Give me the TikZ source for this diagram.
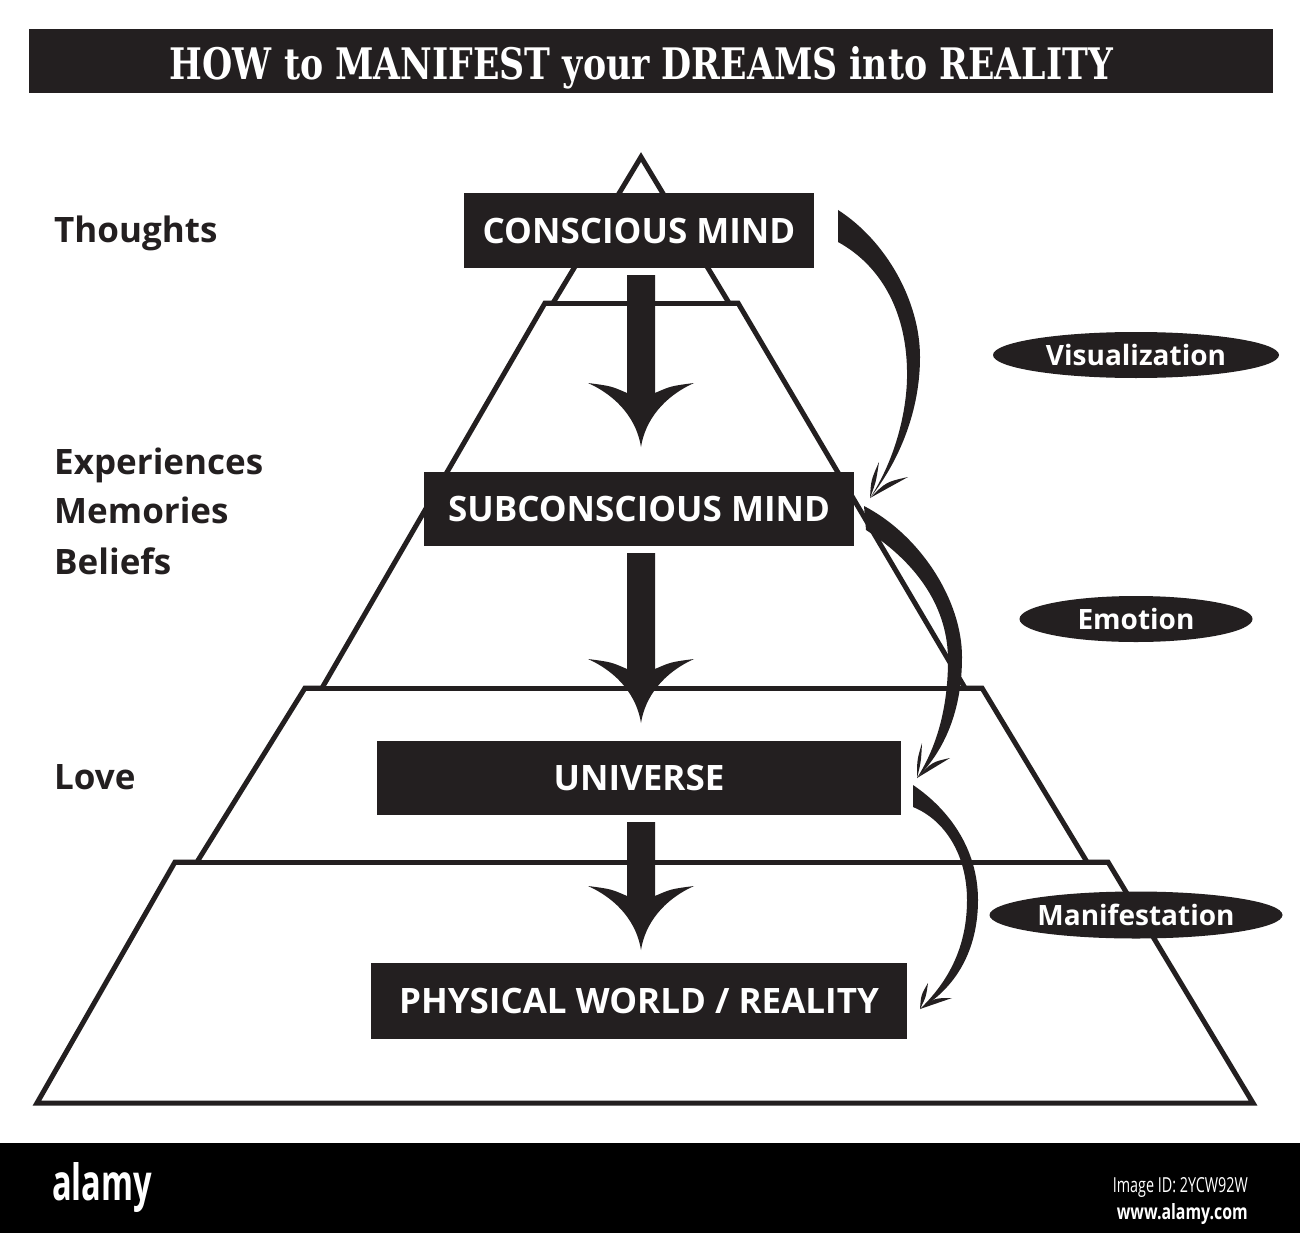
\documentclass[tikz,border=0pt]{standalone}
\usepackage{fontspec}
\usepackage{graphicx}
\setsansfont{Open Sans}
\newfontfamily\titlefont{DejaVu Serif}
\usetikzlibrary{shapes.geometric}
\definecolor{dark}{HTML}{231F20}
\newcommand\dnarrow[3]{%
  \fill[dark] ({#1-14},#2) -- ({#1-14},{#3+10}) .. controls ({#1-30},{#3+3}) .. ({#1-53},#3)
    .. controls ({#1-22},{#3+14}) and ({#1-4},{#3+38}) .. (#1,{#3+64})
    .. controls ({#1+4},{#3+38}) and ({#1+22},{#3+14}) .. ({#1+53},#3)
    .. controls ({#1+30},{#3+3}) .. ({#1+14},{#3+10}) -- ({#1+14},#2) -- cycle;}
\begin{document}
\begin{tikzpicture}[x=1pt,y=-1pt,
  pyr/.style={draw=dark, line width=5, line join=miter},
  box/.style={fill=dark, text=white, inner sep=0, font=\sffamily\bfseries\fontsize{35}{40}\selectfont},
  ell/.style={ellipse, fill=dark, text=white, inner sep=0, font=\sffamily\bfseries\fontsize{28}{30}\selectfont},
  lbl/.style={anchor=base west, inner sep=0, text=dark, font=\sffamily\bfseries\fontsize{35}{40}\selectfont},
  crescent/.style={fill=dark}]
\useasboundingbox (0,0) rectangle (1300,1233);
\fill[white] (0,0) rectangle (1300,1233);
% title
\node[fill=dark, minimum width=1244, minimum height=64, inner sep=0] (titlebar) at (651,61) {};
\node[anchor=base, inner sep=0, text=white] (title) at (641.5,80)
  {\resizebox{943pt}{33pt}{\titlefont\bfseries HOW to MANIFEST your DREAMS into REALITY}};
% pyramid
\draw[pyr] (641,157) -- (553,303) -- (545,303) -- (322,688) -- (305,688) -- (197,862) -- (175,862)
  -- (37,1103) -- (1253,1103) -- (1108,862) -- (1087,862) -- (982,688) -- (965,688) -- (738,303)
  -- (729,303) -- cycle;
\draw[pyr] (545,303) -- (738,303);
\draw[pyr] (305,688) -- (982,688);
\draw[pyr] (175,862) -- (1108,862);
% down arrows
\dnarrow{641}{275}{383}
\dnarrow{641}{553}{659}
\dnarrow{641}{822}{886}
% boxes
\node[box, minimum width=350, minimum height=75] (cm) at (639,230.5) {CONSCIOUS MIND};
\node[box, minimum width=430, minimum height=74] (sm) at (639,509) {SUBCONSCIOUS MIND};
\node[box, minimum width=524, minimum height=74] (un) at (639,778) {UNIVERSE};
\node[box, minimum width=536, minimum height=76] (pw) at (639,1001) {PHYSICAL WORLD / REALITY};
% curved arrows
\fill[crescent] (838,210) .. controls (885,240) and (920,300) .. (920,357)
  .. controls (920,410) and (900,460) .. (870,498)
  .. controls (895,460) and (908,410) .. (907,370)
  .. controls (906,310) and (880,265) .. (838,242) -- cycle;
\fill[crescent] (870,498) .. controls (871,480) .. (879,462) .. controls (876,482) .. (870,498) -- cycle;
\fill[crescent] (870,498) .. controls (886,482) .. (908,477) .. controls (888,488) .. (870,498) -- cycle;
\fill[crescent] (864,506) .. controls (920,535) and (962,600) .. (962,657)
  .. controls (962,710) and (945,750) .. (917,778)
  .. controls (938,745) and (948,705) .. (948,660)
  .. controls (948,610) and (920,565) .. (866,530) -- cycle;
\fill[crescent] (917,778) .. controls (917,760) .. (922,743) .. controls (921,762) .. (917,778) -- cycle;
\fill[crescent] (917,778) .. controls (932,762) .. (950,758) .. controls (934,768) .. (917,778) -- cycle;
\fill[crescent] (913,785) .. controls (950,810) and (978,850) .. (978,900)
  .. controls (978,945) and (960,985) .. (920,1009)
  .. controls (950,980) and (967,945) .. (967,900)
  .. controls (967,855) and (945,820) .. (913,807) -- cycle;
\fill[crescent] (920,1009) .. controls (921,995) .. (928,983) .. controls (926,997) .. (920,1009) -- cycle;
\fill[crescent] (920,1009) .. controls (934,998) .. (952,998) .. controls (936,1004) .. (920,1009) -- cycle;
% ellipses
\node[ell, minimum width=286, minimum height=46] (vis) at (1136,355) {Visualization};
\node[ell, minimum width=233, minimum height=46] (emo) at (1136,619) {Emotion};
\node[ell, minimum width=293, minimum height=47] (man) at (1136,915) {Manifestation};
% left labels
\node[lbl] (th) at (54,243) {Thoughts};
\node[lbl] (ex) at (54,474) {Experiences};
\node[lbl] (me) at (54,523) {Memories};
\node[lbl] (be) at (54,574) {Beliefs};
\node[lbl] (lo) at (54,789) {Love};
% bottom strip
\fill[black] (0,1143) rectangle (1300,1233);
\node[anchor=base west, inner sep=0, text=white] (alamy) at (52,1200)
  {\resizebox{100pt}{38pt}{\sffamily\bfseries alamy}};
\node[anchor=base east, inner sep=0, text=white] (imgid) at (1248,1192)
  {\resizebox{135pt}{15pt}{\sffamily Image ID: 2YCW92W}};
\node[anchor=base east, inner sep=0, text=white] (www) at (1248,1219)
  {\resizebox{131pt}{16pt}{\sffamily\bfseries www.alamy.com}};
\end{tikzpicture}
\end{document}
